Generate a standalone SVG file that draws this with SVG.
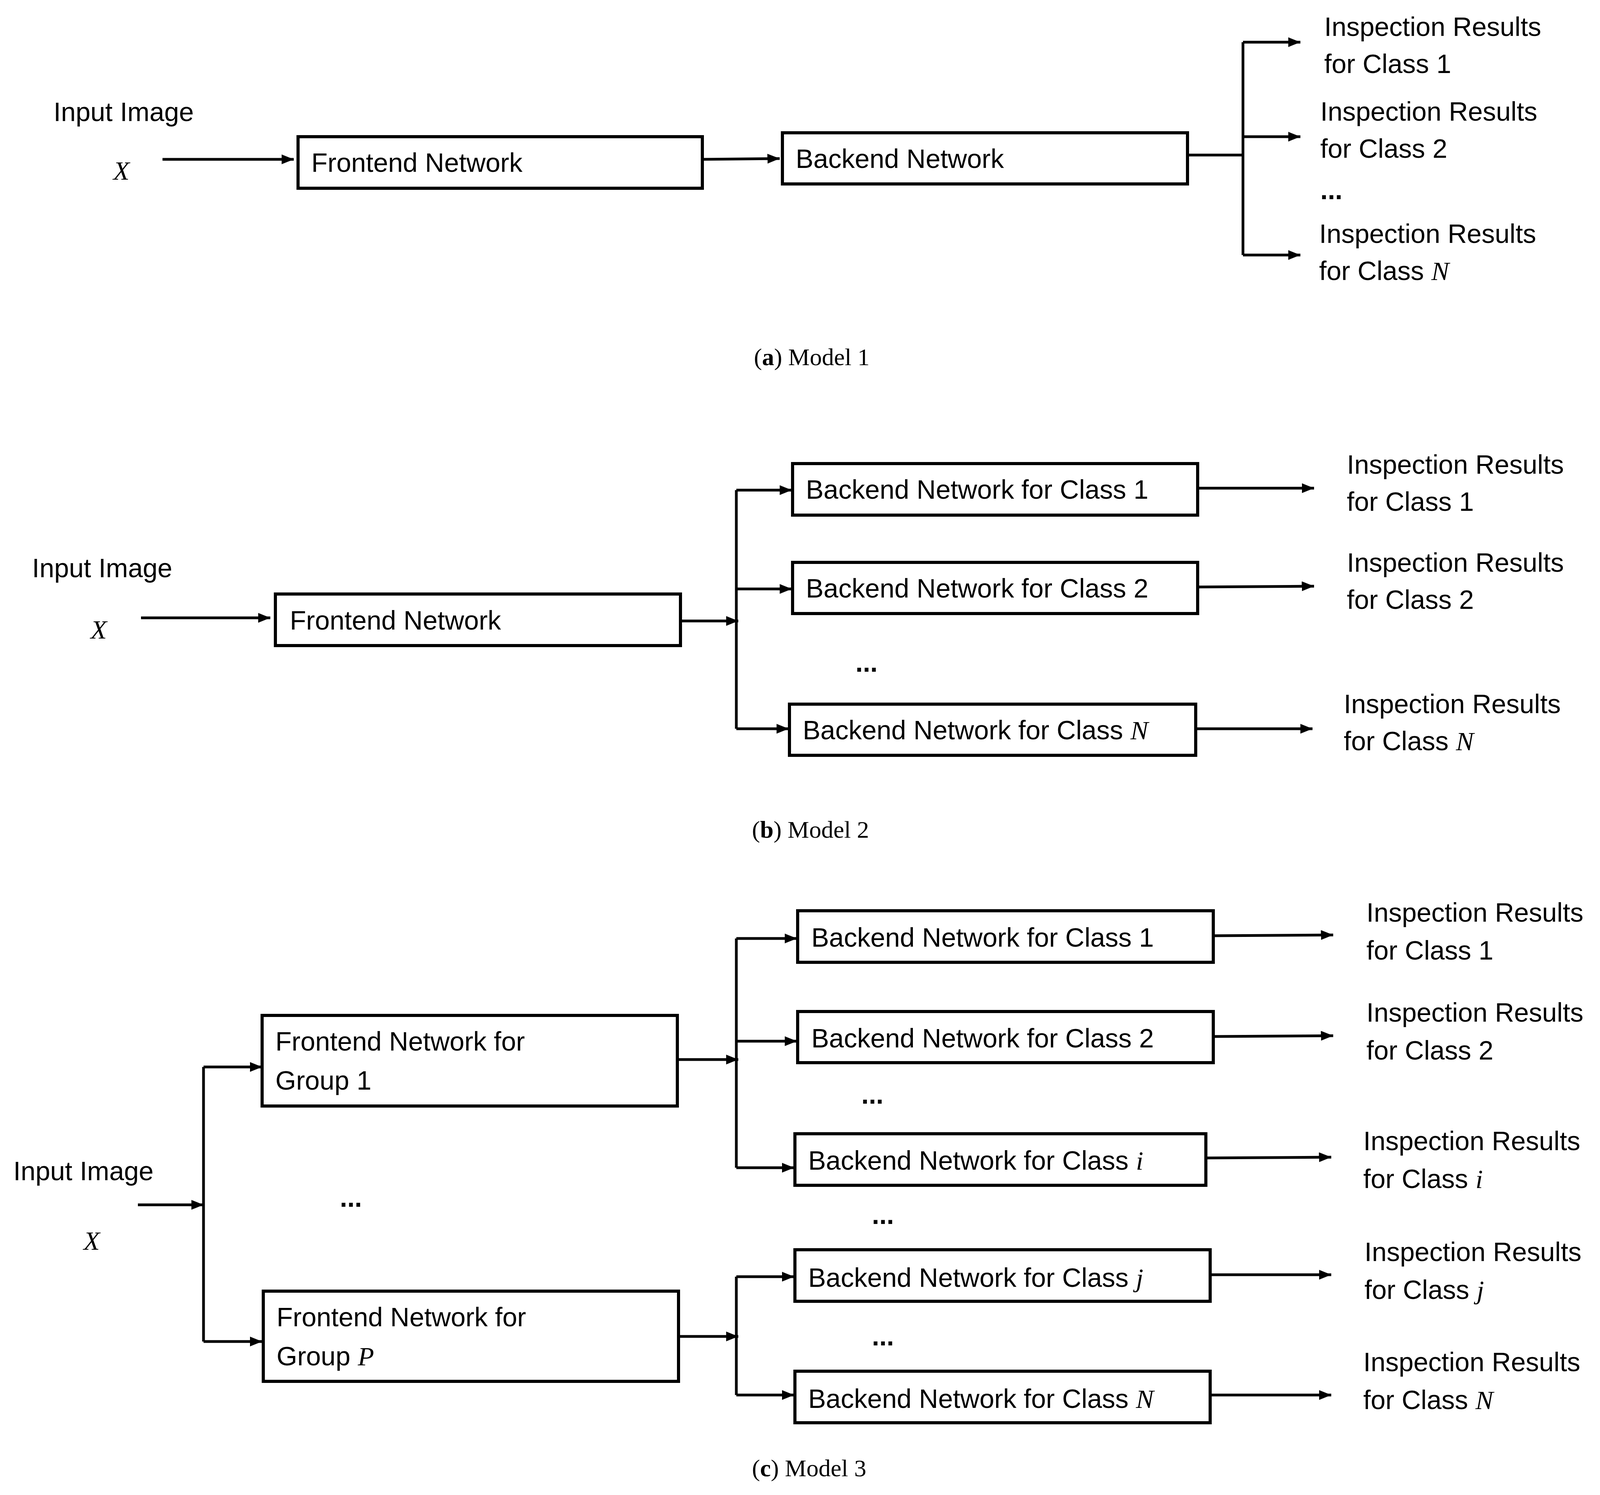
<svg xmlns="http://www.w3.org/2000/svg" width="4126" height="3828" viewBox="0 0 4126 3828">
<style>
text{font-family:"Liberation Sans",Arial,sans-serif;font-size:68px;fill:#000}
.m{font-family:"Liberation Serif",serif;font-style:italic}
.cap{font-family:"Liberation Serif",serif;font-size:62px}
.b{font-weight:bold}
rect{fill:#fff;stroke:#000;stroke-width:8}
.c line,.c path{stroke:#000;stroke-width:7;fill:none}
</style>
<defs><marker id="a" viewBox="0 0 10 8" refX="10" refY="4" markerWidth="4.5" markerHeight="3.6" orient="auto" markerUnits="strokeWidth"><path d="M0,0L10,4L0,8z" fill="#000"/></marker></defs>

<g class="c" id="connectors">
<line x1="416" y1="408" x2="752" y2="408" marker-end="url(#a)"/>
<line x1="1798" y1="408" x2="1996" y2="406" marker-end="url(#a)"/>
<line x1="3040" y1="397" x2="3182" y2="397"/>
<line x1="3182" y1="108" x2="3182" y2="653"/>
<line x1="3182" y1="108" x2="3329" y2="108" marker-end="url(#a)"/>
<line x1="3182" y1="350" x2="3329" y2="350" marker-end="url(#a)"/>
<line x1="3182" y1="653" x2="3329" y2="653" marker-end="url(#a)"/>

<line x1="361" y1="1582" x2="692" y2="1582" marker-end="url(#a)"/>
<line x1="1742" y1="1590" x2="1890" y2="1590" marker-end="url(#a)"/>
<line x1="1885" y1="1255" x2="1885" y2="1866"/>
<line x1="1885" y1="1255" x2="2027" y2="1255" marker-end="url(#a)"/>
<line x1="1885" y1="1508" x2="2027" y2="1508" marker-end="url(#a)"/>
<line x1="1885" y1="1866" x2="2019" y2="1866" marker-end="url(#a)"/>
<line x1="3066" y1="1250" x2="3364" y2="1250" marker-end="url(#a)"/>
<line x1="3066" y1="1503" x2="3364" y2="1501" marker-end="url(#a)"/>
<line x1="3061" y1="1866" x2="3360" y2="1866" marker-end="url(#a)"/>

<line x1="353" y1="3085" x2="521" y2="3085" marker-end="url(#a)"/>
<line x1="521" y1="2732" x2="521" y2="3435"/>
<line x1="521" y1="2732" x2="671" y2="2732" marker-end="url(#a)"/>
<line x1="521" y1="3435" x2="671" y2="3435" marker-end="url(#a)"/>
<line x1="1734" y1="2713" x2="1890" y2="2713" marker-end="url(#a)"/>
<line x1="1885" y1="2403" x2="1885" y2="2990"/>
<line x1="1885" y1="2403" x2="2040" y2="2403" marker-end="url(#a)"/>
<line x1="1885" y1="2666" x2="2040" y2="2666" marker-end="url(#a)"/>
<line x1="1885" y1="2990" x2="2033" y2="2990" marker-end="url(#a)"/>
<line x1="1737" y1="3422" x2="1890" y2="3422" marker-end="url(#a)"/>
<line x1="1885" y1="3269" x2="1885" y2="3572"/>
<line x1="1885" y1="3269" x2="2033" y2="3269" marker-end="url(#a)"/>
<line x1="1885" y1="3572" x2="2033" y2="3572" marker-end="url(#a)"/>
<line x1="3106" y1="2396" x2="3413" y2="2394" marker-end="url(#a)"/>
<line x1="3106" y1="2654" x2="3413" y2="2652" marker-end="url(#a)"/>
<line x1="3087" y1="2965" x2="3408" y2="2963" marker-end="url(#a)"/>
<line x1="3098" y1="3264" x2="3408" y2="3264" marker-end="url(#a)"/>
<line x1="3098" y1="3572" x2="3408" y2="3572" marker-end="url(#a)"/>
</g>

<g id="m1">
<text x="137" y="310">Input Image</text><text class="m" x="290" y="460">X</text>
<g id="fe1"><rect x="763" y="350" width="1035" height="132"/><text x="797" y="440">Frontend Network</text></g>
<g id="be1"><rect x="2003" y="340" width="1037" height="131"/><text x="2037" y="430">Backend Network</text></g>
<text x="3390" y="92">Inspection Results</text><text x="3390" y="187">for Class 1</text>
<text x="3380" y="309">Inspection Results</text><text x="3380" y="404">for Class 2</text>
<text x="3380" y="510" class="b">...</text>
<text x="3377" y="622">Inspection Results</text><text x="3377" y="717">for Class <tspan class="m">N</tspan></text>
<text class="cap" x="1930" y="935">(<tspan class="b">a</tspan>) Model 1</text>
</g>

<g id="m2">
<text x="82" y="1478">Input Image</text><text class="m" x="232" y="1635">X</text>
<g id="fe2"><rect x="705" y="1521" width="1037" height="132"/><text x="742" y="1612">Frontend Network</text></g>
<g id="b21"><rect x="2029" y="1187" width="1037" height="132"/><text x="2063" y="1277">Backend Network for Class 1</text></g>
<g id="b22"><rect x="2029" y="1440" width="1037" height="131"/><text x="2063" y="1530">Backend Network for Class 2</text></g>
<g id="b2n"><rect x="2021" y="1803" width="1040" height="131"/><text x="2055" y="1893">Backend Network for Class <tspan class="m">N</tspan></text></g>
<text x="2190" y="1720" class="b">...</text>
<text x="3448" y="1213">Inspection Results</text><text x="3448" y="1308">for Class 1</text>
<text x="3448" y="1464">Inspection Results</text><text x="3448" y="1559">for Class 2</text>
<text x="3440" y="1826">Inspection Results</text><text x="3440" y="1921">for Class <tspan class="m">N</tspan></text>
<text class="cap" x="1925" y="2145">(<tspan class="b">b</tspan>) Model 2</text>
</g>

<g id="m3">
<text x="34" y="3022">Input Image</text><text class="m" x="214" y="3200">X</text>
<g id="fg1"><rect x="671" y="2600" width="1063" height="232"/><text x="705" y="2690">Frontend Network for</text><text x="705" y="2790">Group 1</text></g>
<g id="fgp"><rect x="674" y="3306" width="1063" height="231"/><text x="708" y="3396">Frontend Network for</text><text x="708" y="3496">Group <tspan class="m">P</tspan></text></g>
<text x="870" y="3090" class="b">...</text>
<g id="b31"><rect x="2042" y="2332" width="1064" height="132"/><text x="2077" y="2424">Backend Network for Class 1</text></g>
<g id="b32"><rect x="2042" y="2590" width="1064" height="131"/><text x="2077" y="2682">Backend Network for Class 2</text></g>
<g id="b3i"><rect x="2035" y="2903" width="1052" height="132"/><text x="2069" y="2995">Backend Network for Class <tspan class="m">i</tspan></text></g>
<g id="b3j"><rect x="2035" y="3200" width="1063" height="132"/><text x="2069" y="3295">Backend Network for Class <tspan class="m">j</tspan></text></g>
<g id="b3n"><rect x="2035" y="3511" width="1063" height="132"/><text x="2069" y="3605">Backend Network for Class <tspan class="m">N</tspan></text></g>
<text x="2205" y="2826" class="b">...</text>
<text x="2232" y="3134" class="b">...</text>
<text x="2232" y="3445" class="b">...</text>
<text x="3498" y="2360">Inspection Results</text><text x="3498" y="2457">for Class 1</text>
<text x="3498" y="2616">Inspection Results</text><text x="3498" y="2713">for Class 2</text>
<text x="3490" y="2945">Inspection Results</text><text x="3490" y="3042">for Class <tspan class="m">i</tspan></text>
<text x="3493" y="3229">Inspection Results</text><text x="3493" y="3326">for Class <tspan class="m">j</tspan></text>
<text x="3490" y="3511">Inspection Results</text><text x="3490" y="3608">for Class <tspan class="m">N</tspan></text>
<text class="cap" x="1925" y="3780">(<tspan class="b">c</tspan>) Model 3</text>
</g>
</svg>
